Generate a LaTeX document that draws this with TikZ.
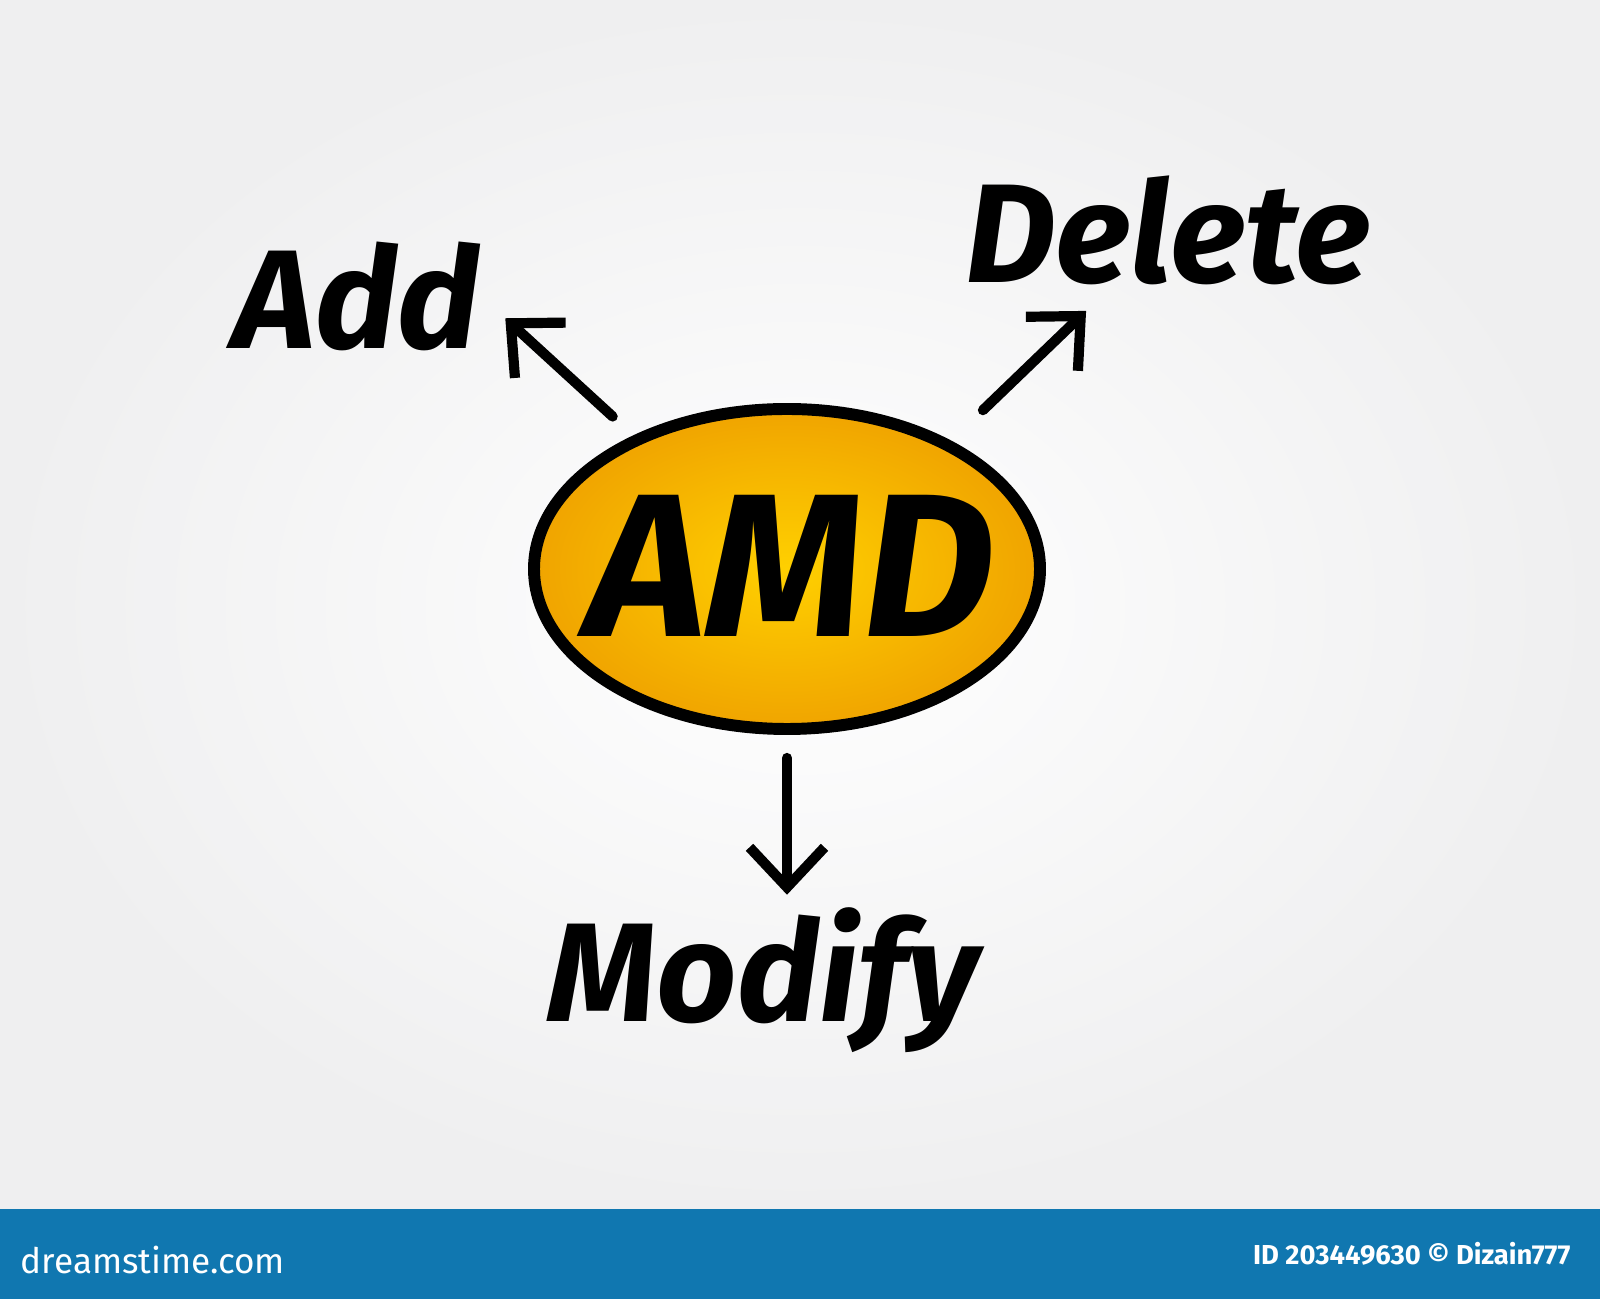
\documentclass[tikz,border=0pt]{standalone}
\usepackage{fontspec}
\setmainfont{Fira Sans}
\usetikzlibrary{arrows.meta,shapes.geometric,positioning}

\definecolor{amdcore}{HTML}{FFD000}
\definecolor{amdrim}{HTML}{F0A400}
\definecolor{barblue}{HTML}{1077B0}
\definecolor{paperedge}{HTML}{EFEFF0}

\begin{document}
\begin{tikzpicture}[
        x = 0.1mm, y = -0.1mm, % one unit = one pixel, y downwards
        > = {Straight Barb[length=4mm,width=7.5mm]}, % open arrow head
        line cap = round,
        line join = round
      ]

      \tikzstyle{hand}=[font=\fontsize{40}{48}\selectfont\bfseries\itshape, inner sep=0pt]
      \tikzstyle{blob}=[ellipse, draw=black, line width=3.4pt, inner sep=0pt,
                        minimum width=50.6cm/10, minimum height=32cm/10,
                        inner color=amdcore, outer color=amdrim]
      \tikzstyle{link}=[->, line width=2.9pt]
      \tikzstyle{stamp}=[text=white, inner sep=0pt]

      % paper and footer bar
      \fill[inner color=white, outer color=paperedge] (0,0) rectangle (1600,1209);
      \fill[barblue] (0,1209) rectangle (1600,1299);
      \useasboundingbox (0,0) rectangle (1600,1299);

      \node[blob] (amd) at (787,569) {};
      \node[hand, font=\fontsize{58}{66}\selectfont\bfseries\itshape] (amdtext) at (791,566) {AMD};

      \node[hand] (add) at (357,296) {Add};
      \node[hand] (delete) at (1168,230) {Delete};
      \node[hand] (modify) at (763,980) {Modify};

      \draw[link, shorten <=2.8mm, shorten >=3.3mm] (amd.139) -- (add.east);
      \draw[link, shorten <=4.4mm, shorten >=3.7mm] (amd.38) -- (delete.-135);
      \draw[link, shorten <=2.3mm, shorten >=1.2mm] (amd.south) -- (amd.south |- modify.north);

      \node[stamp, anchor=west, font=\fontsize{10}{12}\selectfont] (site) at (20,1260) {dreamstime.com};
      \node[stamp, anchor=east, font=\fontsize{7.8}{9}\selectfont\bfseries] (credit) at (1571,1254) {ID 203449630 © Dizain777};

    \end{tikzpicture}
\end{document}
